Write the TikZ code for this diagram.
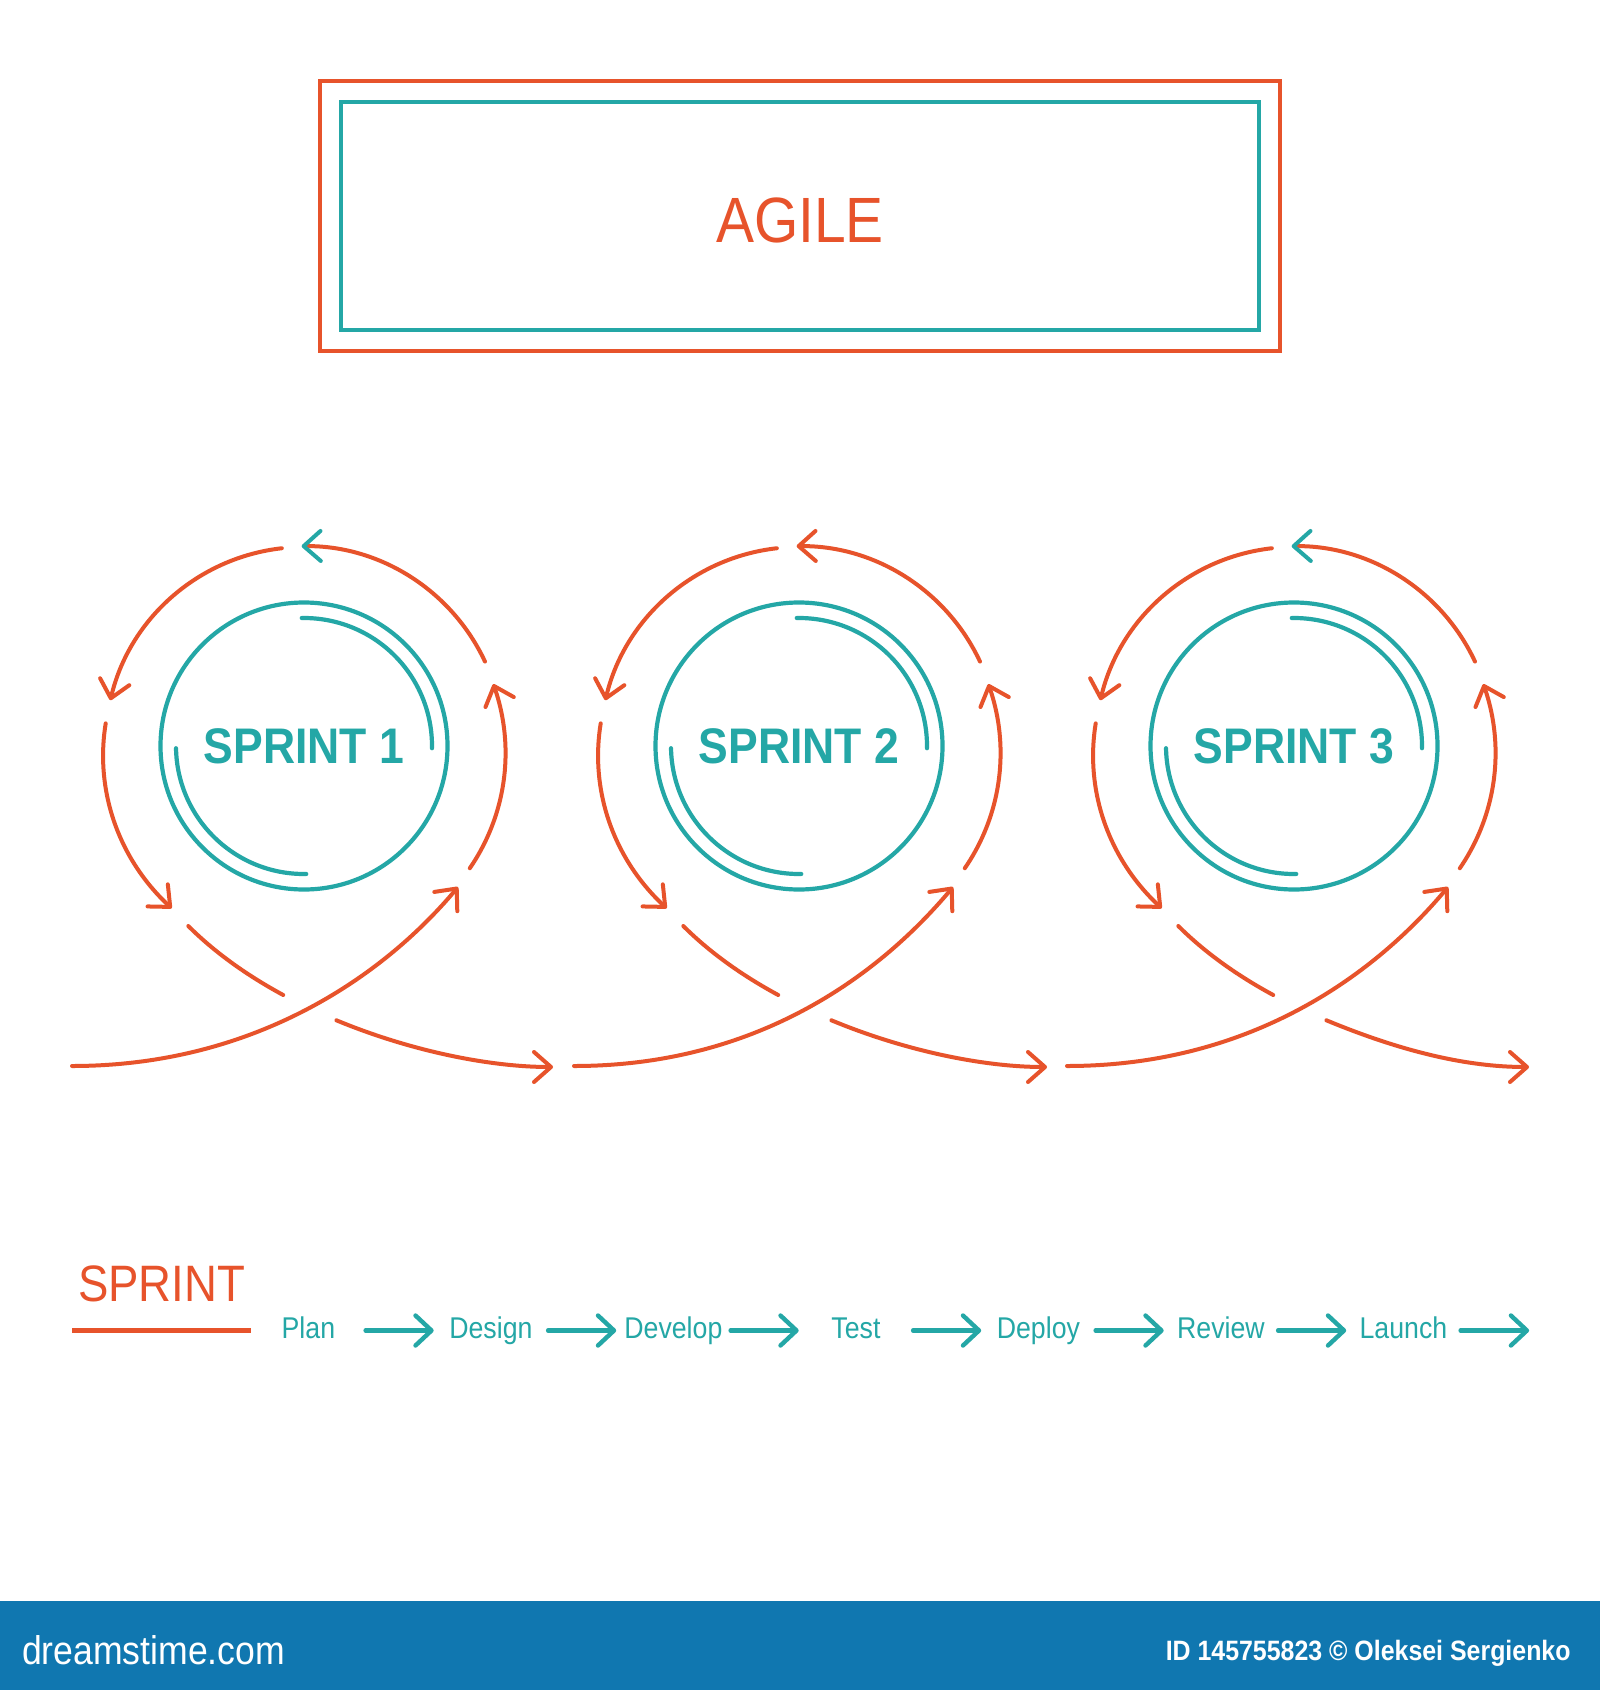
\documentclass[tikz,border=0pt]{standalone}
\usepackage{fontspec}
\setmainfont{Liberation Sans}[FakeStretch=0.89]
\usetikzlibrary{arrows.meta}

\definecolor{agileorange}{RGB}{231,83,43}
\definecolor{agileteal}{RGB}{36,167,166}
\definecolor{footerblue}{RGB}{16,119,176}

\tikzset{
  orangeline/.style={draw=agileorange, line width=2pt, line cap=round},
  tealline/.style={draw=agileteal, line width=2.1pt, line cap=round},
  barb/.style={-{Straight Barb[length=8.5pt,width=15pt,round]}},
  sprintcircle/.style={circle, tealline, minimum size=143.5pt, inner sep=0pt, text=agileteal, font=\bfseries\fontsize{25}{25}\selectfont},
  steplabel/.style={anchor=base, text=agileteal, font=\fontsize{15}{15}\selectfont},
  steparrow/.style={tealline, line width=2.2pt, -{Straight Barb[length=8pt,width=15pt,round]}, shorten <=28.6pt, shorten >=28.6pt},
}

\begin{document}
\begin{tikzpicture}[x=0.5pt,y=0.5pt,yscale=-1]
        % page, 1600 x 1690
        \fill[white] (0,0) rectangle (1600,1690);

        % title frame
        \draw[orangeline, line width=2.2pt, line cap=butt] (320,81) rectangle (1280,351);
        \draw[tealline, line width=2.2pt, line cap=butt] (341,102) rectangle (1259,330);
        \node[text=agileorange, font=\fontsize{32}{32}\selectfont] (agile) at (800,220.5) {AGILE};

        % sprint loops
        \foreach \i/\cx/\inx/\outx/\topcol in {1/304/-232/249/agileteal, 2/799/-225/248/agileorange, 3/1294/-227/235/agileteal} {
          \node[sprintcircle] (s\i) at (\cx,746) {SPRINT \i};
          \begin{scope}[shift={(s\i.center)}]
            % inner quarter arcs
            \draw[tealline] (-91:128) arc[start angle=-91, end angle=1, radius=128];
            \draw[tealline] (179:128) arc[start angle=179, end angle=89, radius=128];
            % outer loop
            \draw[orangeline, barb] (-96.4:199) arc[start angle=-96.4, end angle=-166.7, radius=199];
            \draw[orangeline, barb] plot[domain=173.5:230.8, samples=40, variable=\t] (-\t:{199.6+0.171*(\t-173.5)});
            \draw[orangeline] (-115.7,180) .. controls (-89.05,206.65) and (-56.44,229.7) .. (-20.8,249);
            \draw[orangeline, barb] (32.4,274.3) .. controls (106.4,305) and ({\outx-63},321) .. (\outx,321);
            \draw[orangeline, barb] (\inx,320) .. controls ({\inx+178},320) and (76,234) .. (154,141);
            \draw[orangeline, barb] plot[domain=-36.4:18.1, samples=40, variable=\t] (-\t:{206-0.1248*(\t+36.4)});
            \draw[orangeline, -{Straight Barb[length=8.5pt,width=15pt,round,color=\topcol]}] (-25:199.7) arc[start angle=-25, end angle=-90.6, radius=200];
          \end{scope}
        }

        % key
        \node[text=agileorange, anchor=base, font=\fontsize{25.6}{25.6}\selectfont] (sprintkey) at (161.7,1301.4) {SPRINT};
        \draw[orangeline, line width=2.2pt, line cap=butt] (72,1330.5) -- (251,1330.5);
        \foreach \name/\txt [count=\k from 0] in {plan/Plan, design/Design, develop/Develop, test/Test, deploy/Deploy, review/Review, launch/Launch}
          \node[steplabel] (\name) at ({308.4+182.5*\k},1338) {\txt};
        \coordinate (keyend) at (1586.3,1330.5);
        \foreach \a/\b in {plan/design, design/develop, develop/test, test/deploy, deploy/review, review/launch}
          \draw[steparrow] ([yshift=-3.75pt]\a.base) -- ([yshift=-3.75pt]\b.base);
        \draw[steparrow] ([yshift=-3.75pt]launch.base) -- (keyend);

        % footer bar
        \fill[footerblue] (0,1601) rectangle (1600,1690);
        \node[anchor=base west, inner sep=0pt, text=white, font=\fontsize{20}{20}\selectfont] (brand) at (21.6,1664) {dreamstime.com};
        \node[anchor=base east, inner sep=0pt, text=white, font=\bfseries\fontsize{14}{14}\selectfont] (credit) at (1571,1660) {ID 145755823 © Oleksei Sergienko};
\end{tikzpicture}
\end{document}
